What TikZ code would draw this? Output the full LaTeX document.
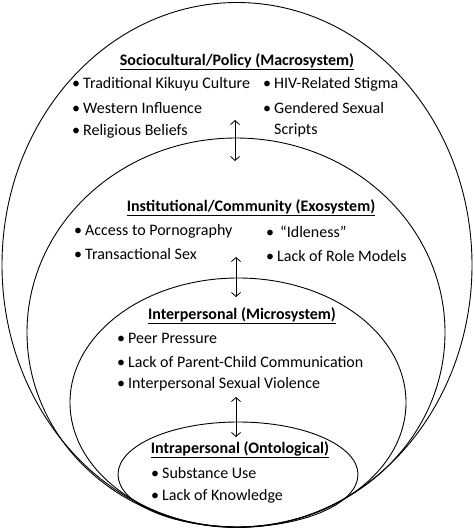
\documentclass[tikz,border=0pt]{standalone}
\usepackage{fontspec}
\setmainfont{Carlito}
\usetikzlibrary{arrows.meta}
\begin{document}
\begin{tikzpicture}[x=1pt,y=-1pt,
  ell/.style={draw=black,line width=0.9pt},
  head/.style={font=\fontsize{16}{18}\selectfont\bfseries,inner sep=0pt,anchor=center},
  item/.style={font=\fontsize{16}{18}\selectfont,inner sep=0pt,anchor=west},
  link/.style={line width=0.8pt,{Straight Barb[length=4pt,width=9pt]}-{Straight Barb[length=4pt,width=9pt]}}]
\newcommand{\bul}{\makebox[11pt][l]{\textbullet}}
\useasboundingbox (0,0) rectangle (474,530);
% ellipses
\draw[ell] (237,265) ellipse [x radius=235, y radius=262.5];
\draw[ell] (236,332.5) ellipse [x radius=209, y radius=194.5];
\draw[ell] (238,402.5) ellipse [x radius=168, y radius=124.5];
\draw[ell] (238,474.5) ellipse [x radius=120, y radius=52.5];
% macro
\node[head] (h1) at (237,62) {\underline{Sociocultural/Policy (Macrosystem)}};
\node[item] (m1) at (72,84) {\bul Traditional Kikuyu Culture};
\node[item] (m2) at (72,108) {\bul Western Influence};
\node[item] (m3) at (72,131) {\bul Religious Beliefs};
\node[item] (m4) at (263,84) {\bul HIV-Related Stigma};
\node[item] (m5) at (263,108) {\bul Gendered Sexual};
\node[item] (m6) at (274,130) {Scripts};
% exo
\node[head] (h2) at (251,208) {\underline{Institutional/Community (Exosystem)}};
\node[item] (e1) at (74,231) {\bul Access to Pornography};
\node[item] (e2) at (74,254) {\bul Transactional Sex};
\node[item] (e3) at (266,232) {\bul\hspace{3pt}“Idleness”};
\node[item] (e4) at (266,256) {\bul Lack of Role Models};
% micro
\node[head] (h3) at (242,316) {\underline{Interpersonal (Microsystem)}};
\node[item] (i1) at (117,338) {\bul Peer Pressure};
\node[item] (i2) at (117,362) {\bul Lack of Parent-Child Communication};
\node[item] (i3) at (117,384) {\bul Interpersonal Sexual Violence};
% onto
\node[head] (h4) at (240,450) {\underline{Intrapersonal (Ontological)}};
\node[item] (o1) at (151,473) {\bul Substance Use};
\node[item] (o2) at (151,496) {\bul Lack of Knowledge};
% arrows
\coordinate (a1t) at (235,120); \coordinate (a1b) at (235,161);
\coordinate (a2t) at (236,257); \coordinate (a2b) at (236,297);
\coordinate (a3t) at (236,397); \coordinate (a3b) at (236,437);
\draw[link] (a1t) -- (a1b);
\draw[link] (a2t) -- (a2b);
\draw[link] (a3t) -- (a3b);
\end{tikzpicture}
\end{document}
